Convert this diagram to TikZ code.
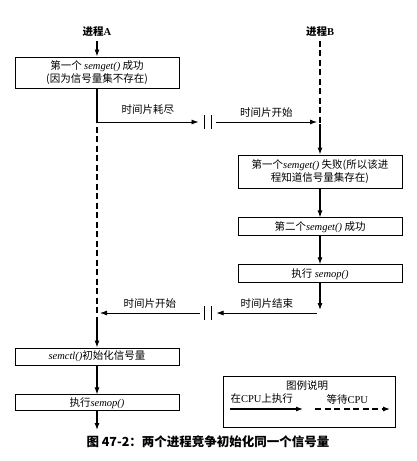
\documentclass[tikz,border=0pt]{standalone}
\usepackage{fontspec}
\setmainfont{Noto Sans CJK SC}
\newfontfamily\lat{Liberation Serif}
\usetikzlibrary{arrows.meta,positioning}
\newcommand{\sysfn}[1]{{\lat\itshape #1}}

\begin{document}
\begin{tikzpicture}[x=1pt,y=-1pt,line width=1.1pt,
    >={Latex[length=7pt,width=5pt]},
    box/.style={draw,line width=0.9pt,minimum width=164pt,inner sep=2pt,
      align=center,font=\fontsize{10.5}{13.5}\selectfont},
    proc/.style={font=\fontsize{10.5}{12}\selectfont\bfseries},
    lbl/.style={font=\fontsize{10.5}{12}\selectfont},
    waiting/.style={dash pattern=on 6pt off 3.5pt}]
  \useasboundingbox (0,0) rectangle (416,461);

  % the two processes
  \node[proc] (pA) at (97,32) {进程{\lat A}};
  \node[proc] (pB) at (320,32) {进程{\lat B}};

  % process A
  \node[box,minimum height=31pt] (a1) at (97,72.5)
    {第一个 \sysfn{semget()} 成功\\(因为信号量集不存在)};
  \node[box,minimum height=17pt] (a2) at (97,356.5)
    {\sysfn{semctl()}初始化信号量};
  \node[box,minimum height=16pt,below=29pt of a2] (a3) {执行\sysfn{semop()}};
  \coordinate (aEnd) at (97,430);

  % process B
  \node[box,minimum height=33pt] (b1) at (320,171.5)
    {第一个\sysfn{semget()} 失败(所以该进\\程知道信号量集存在)};
  \node[box,minimum height=18pt,below=29pt of b1] (b2) {第二个\sysfn{semget()} 成功};
  \node[box,minimum height=18pt,below=28pt of b2] (b3) {执行 \sysfn{semop()}};

  % switch points on the time lines
  \coordinate (aOff) at (97,117);
  \coordinate (aOn)  at (97,318);
  \coordinate (bOn)  at (320,124);
  \coordinate (bOff) at (320,310);
  \coordinate (cut1) at (207.5,122);
  \coordinate (cut2) at (207.5,313);

  \draw[->] (pA) -- (a1);
  \draw (a1) -- (aOff);
  \draw[waiting] (aOff) -- (aOn);
  \draw[->] (aOn) -- (a2);
  \draw[->] (a2) -- (a3);
  \draw[->] (a3) -- (aEnd);

  \draw[waiting] (pB) -- (bOn);
  \draw[->] (bOn) -- (b1);
  \draw[->] (b1) -- (b2);
  \draw[->] (b2) -- (b3);
  \draw[->] (b3) -- (bOff);

  % context switches
  \foreach \c in {cut1,cut2} {
    \draw[line width=0.8pt] ([xshift=-3.5pt,yshift=7pt]\c) -- ([xshift=-3.5pt,yshift=-7pt]\c);
    \draw[line width=0.8pt] ([xshift=3.5pt,yshift=7pt]\c) -- ([xshift=3.5pt,yshift=-7pt]\c);
  }
  \draw[->,line width=0.8pt] (97,122) -- ([xshift=-9pt]cut1)
    node[lbl,midway,above=4pt] {时间片耗尽};
  \draw[->,line width=0.8pt] ([xshift=8pt]cut1) -- (317,122)
    node[lbl,midway,above=1pt] {时间片开始};
  \draw[->,line width=0.8pt] (317,313) -- ([xshift=9pt]cut2)
    node[lbl,midway,above=1pt] {时间片结束};
  \draw[->,line width=0.8pt] ([xshift=-8pt]cut2) -- (100,313)
    node[lbl,midway,above=1pt] {时间片开始};

  % legend
  \node[draw,line width=0.9pt,minimum width=172pt,minimum height=51pt] (legend) at (309,401.5) {};
  \node[lbl] (legT) at (307,386) {图例说明};
  \node[lbl,anchor=west,inner sep=0pt] (legRun) at (230,399) {在{\lat CPU}上执行};
  \node[lbl,anchor=west,inner sep=0pt] (legWait) at (326,399) {等待{\lat CPU}};
  \coordinate (r0) at (230,409);
  \coordinate (r1) at (303,409);
  \coordinate (w0) at (315,409);
  \coordinate (w1) at (390,409);
  \draw[->] (r0) -- (r1);
  \draw[->,waiting] (w0) -- (w1);

  % caption
  \node[font=\fontsize{12.5}{14}\selectfont\bfseries] (cap) at (208,442)
    {图 47-2：两个进程竞争初始化同一个信号量};
\end{tikzpicture}
\end{document}
